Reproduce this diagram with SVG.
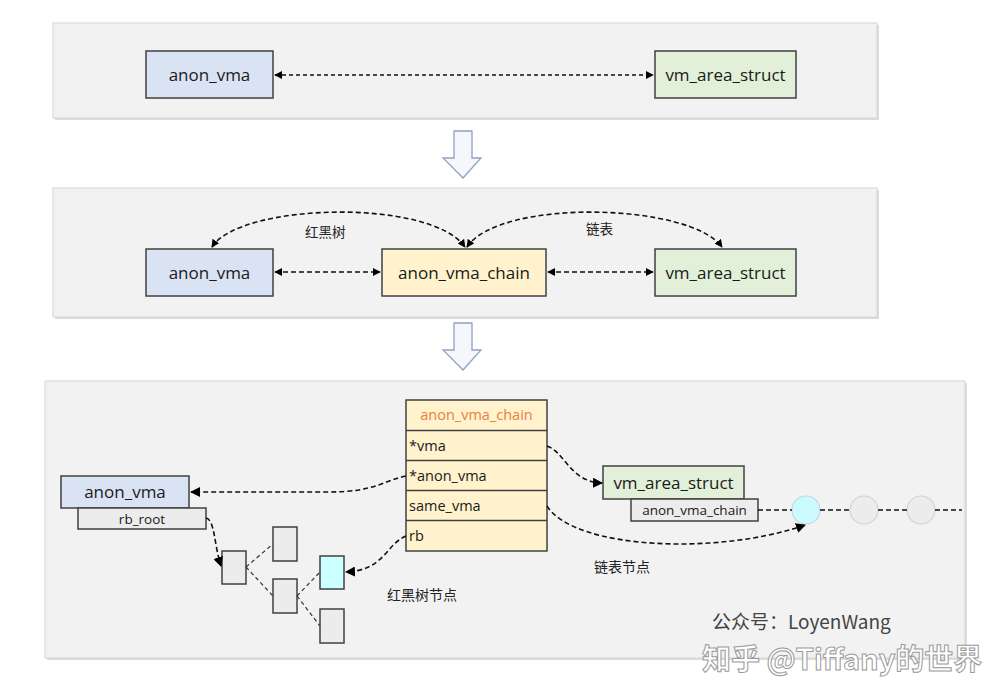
<svg xmlns="http://www.w3.org/2000/svg" width="1007" height="693" viewBox="0 0 1007 693">
<style>
.panel{fill:#f2f2f2;stroke:#d6d6d6;stroke-width:1}
.pshadow{fill:#dcdcdc}
.box{stroke:#404040;stroke-width:1.5}
.blue{fill:#dae3f3}
.green{fill:#e2f0d9}
.yellow{fill:#fff2cc}
.grey{fill:#ececec}
.t{font-family:"Open Sans","Liberation Sans","Noto Sans CJK SC",sans-serif;fill:#1a1a1a}
.cjk{font-family:"Noto Sans CJK SC","Noto Sans",sans-serif;fill:#222}
.dash{fill:none;stroke:#111;stroke-width:1.6;stroke-dasharray:5 3}
.thin{fill:none;stroke:#333;stroke-width:1.2;stroke-dasharray:4 3}
.down{fill:#f4f7fb;stroke:#8ea2c0;stroke-width:1.3}
</style>
<defs>
<marker id="ah" viewBox="0 0 10 10" refX="9" refY="5" markerWidth="10" markerHeight="10" markerUnits="userSpaceOnUse" orient="auto-start-reverse">
<path d="M0,0 L10,5 L0,10 z" fill="#000"/>
</marker>
<marker id="ahs" viewBox="0 0 10 10" refX="9" refY="5" markerWidth="8" markerHeight="8" markerUnits="userSpaceOnUse" orient="auto-start-reverse">
<path d="M0,0 L10,5 L0,10 z" fill="#000"/>
</marker>
</defs>
<rect width="1007" height="693" fill="#ffffff"/>

<!-- Panels -->
<g id="panel1">
<rect class="pshadow" x="55" y="25" width="824" height="95"/>
<rect class="panel" x="53" y="23" width="824" height="95"/>
</g>
<g id="panel2">
<rect class="pshadow" x="55" y="190" width="824" height="129"/>
<rect class="panel" x="53" y="188" width="824" height="129"/>
</g>
<g id="panel3">
<rect class="pshadow" x="47" y="383" width="920" height="277"/>
<rect class="panel" x="45" y="381" width="920" height="277"/>
</g>

<!-- Down arrows -->
<g id="down1"><path class="down" d="M454,131 H472 V158 H481 L463,178 L443,158 H454 Z"/></g>
<g id="down2"><path class="down" d="M454,323 H472 V350 H481 L463,370 L443,350 H454 Z"/></g>

<!-- Panel 1 nodes -->
<g id="p1_anon_vma">
<rect class="box blue" x="146" y="51" width="127" height="47"/>
<text class="t" x="209.5" y="81" font-size="17" text-anchor="middle">anon_vma</text>
</g>
<g id="p1_vm_area_struct">
<rect class="box green" x="655" y="51" width="141" height="47"/>
<text class="t" x="725.5" y="81" font-size="17" text-anchor="middle">vm_area_struct</text>
</g>

<!-- Panel 2 nodes -->
<g id="p2_anon_vma">
<rect class="box blue" x="146" y="249" width="127" height="47"/>
<text class="t" x="209.5" y="279" font-size="17" text-anchor="middle">anon_vma</text>
</g>
<g id="p2_anon_vma_chain">
<rect class="box yellow" x="382" y="249" width="164" height="47"/>
<text class="t" x="464" y="279" font-size="17" text-anchor="middle">anon_vma_chain</text>
</g>
<g id="p2_vm_area_struct">
<rect class="box green" x="655" y="249" width="141" height="47"/>
<text class="t" x="725.5" y="279" font-size="17" text-anchor="middle">vm_area_struct</text>
</g>
<g id="p2_labels">
<text class="cjk" x="305" y="237" font-size="13.5">红黑树</text>
<text class="cjk" x="586" y="234" font-size="13.5">链表</text>
</g>

<!-- Panel 3 nodes -->
<g id="p3_anon_vma">
<rect class="box blue" x="61" y="476" width="128" height="32"/>
<text class="t" x="125" y="498" font-size="17" text-anchor="middle">anon_vma</text>
</g>
<g id="p3_rb_root">
<rect class="box grey" x="78" y="508" width="128" height="21" stroke-width="1.2"/>
<text class="t" x="142" y="524" font-size="13.5" text-anchor="middle">rb_root</text>
</g>
<g id="p3_chain_table">
<rect class="box yellow" x="406" y="400" width="141" height="151" stroke-width="1.3"/>
<line x1="406" y1="430.5" x2="547" y2="430.5" stroke="#404040" stroke-width="1.3"/>
<line x1="406" y1="460.5" x2="547" y2="460.5" stroke="#404040" stroke-width="1.3"/>
<line x1="406" y1="490.5" x2="547" y2="490.5" stroke="#404040" stroke-width="1.3"/>
<line x1="406" y1="520.5" x2="547" y2="520.5" stroke="#404040" stroke-width="1.3"/>
<text class="t" x="476.5" y="420" font-size="14.5" text-anchor="middle" style="fill:#e8813f">anon_vma_chain</text>
<text class="t" x="409" y="451" font-size="14.5">*vma</text>
<text class="t" x="409" y="481" font-size="14.5">*anon_vma</text>
<text class="t" x="409" y="511" font-size="14.5">same_vma</text>
<text class="t" x="409" y="541" font-size="14.5">rb</text>
</g>
<g id="p3_vm_area_struct">
<rect class="box green" x="603" y="466" width="141" height="33"/>
<text class="t" x="673.5" y="489" font-size="17" text-anchor="middle">vm_area_struct</text>
</g>
<g id="p3_vm_chain">
<rect class="box grey" x="631" y="499" width="127" height="22" stroke-width="1.2"/>
<text class="t" x="694.5" y="515" font-size="13.5" text-anchor="middle">anon_vma_chain</text>
</g>
<g id="tree_a"><rect class="box grey" x="222" y="551" width="24" height="33" stroke-width="1.2"/></g>
<g id="tree_b"><rect class="box grey" x="273" y="527" width="24" height="34" stroke-width="1.2"/></g>
<g id="tree_c"><rect class="box grey" x="273" y="579" width="24" height="34" stroke-width="1.2"/></g>
<g id="tree_d"><rect class="box" x="320" y="556" width="24" height="33" stroke-width="1.2" fill="#ccffff"/></g>
<g id="tree_e"><rect class="box grey" x="320" y="609" width="24" height="34" stroke-width="1.2"/></g>
<g id="list_1"><circle cx="806" cy="510" r="14" fill="#ccfbff" stroke="#c3d7de" stroke-width="1.2"/></g>
<g id="list_2"><circle cx="864" cy="510" r="14" fill="#ececec" stroke="#d2d2d2" stroke-width="1.2"/></g>
<g id="list_3"><circle cx="921" cy="510" r="14" fill="#ececec" stroke="#d2d2d2" stroke-width="1.2"/></g>
<g id="p3_labels">
<text class="cjk" x="387" y="600" font-size="14">红黑树节点</text>
<text class="cjk" x="594" y="572" font-size="14">链表节点</text>
</g>

<!-- Connectors -->
<g id="connectors">
<path class="dash" d="M275,75 H653" marker-start="url(#ahs)" marker-end="url(#ahs)" style="stroke-dasharray:4 3;stroke-width:1.4"/>
<path class="dash" d="M275,272 H380" marker-start="url(#ahs)" marker-end="url(#ahs)"/>
<path class="dash" d="M548,272 H653" marker-start="url(#ahs)" marker-end="url(#ahs)"/>
<path class="dash" d="M212,247 C240,203 430,198 465,247" marker-start="url(#ahs)" marker-end="url(#ahs)"/>
<path class="dash" d="M467,247 C500,198 690,203 722,247" marker-start="url(#ahs)" marker-end="url(#ahs)"/>
<path class="dash" d="M406,476 C385,480 375,492 330,492 L191,492" marker-end="url(#ah)"/>
<path class="dash" d="M406,536 C385,545 385,570 346,572" marker-end="url(#ah)"/>
<path class="dash" d="M547,446 C565,452 570,482 602,483" marker-end="url(#ah)"/>
<path class="dash" d="M547,506 C575,550 720,555 805,525" marker-end="url(#ah)"/>
<path class="dash" d="M206,518 C215,520 214,545 221,566" marker-end="url(#ah)"/>
<path class="thin" d="M246,567 L273,544 M246,567 L273,596 M297,596 L320,572 M297,596 L320,626"/>
<path class="dash" d="M758,510 H792 M820,510 H850 M878,510 H907 M935,510 H962" style="stroke-width:1.4"/>
</g>

<!-- Watermarks -->
<g id="watermark">
<text class="cjk" x="712" y="629" font-size="19" style="fill:#444">公众号：LoyenWang</text>
<text x="702" y="670" font-size="29" font-weight="700" font-family="Noto Sans CJK SC, sans-serif" fill="#ffffff" stroke="#9a9a9a" stroke-width="1">知乎 @Tiffany的世界</text>
</g>
</svg>
